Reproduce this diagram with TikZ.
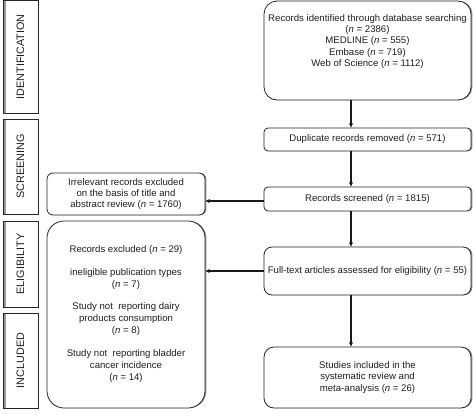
\documentclass[tikz,border=0pt]{standalone}
\usepackage{fontspec}
\setmainfont{Liberation Sans}
\usetikzlibrary{arrows.meta,shadows}
\begin{document}
\begin{tikzpicture}[x=1pt,y=-1pt,
  every node/.style={font=\fontsize{9.6}{11.3}\selectfont, text=black!88},
  flowbox/.style={draw=black!85, line width=0.8pt, fill=white, align=center, inner sep=0pt,
    drop shadow={shadow xshift=1.4pt, shadow yshift=0pt, fill=black!45, opacity=1}},
  sidebox/.style={draw=black!85, line width=0.8pt, fill=white, inner sep=0pt,
    minimum width=35pt,
    path picture={\fill[black!40] (path picture bounding box.north west) rectangle ([xshift=3pt]path picture bounding box.south west);}},
  sidelabel/.style={rotate=90, font=\fontsize{10.8}{12}\selectfont},
  arr/.style={line width=1.3pt, black!90, -{Stealth[length=4.5pt,width=4pt]}}
]
\useasboundingbox (0,0) rectangle (474,413);

% side stage boxes
\node[sidebox, minimum height=112.5pt] (id) at (20.5,56.75) {};
\node[sidelabel] (idl) at (id.center) {IDENTIFICATION};
\node[sidebox, minimum height=95pt] (scr) at (20.5,166.5) {};
\node[sidelabel] (scrl) at (scr.center) {SCREENING};
\node[sidebox, minimum height=86pt] (eli) at (20.5,264) {};
\node[sidelabel] (elil) at (eli.center) {ELIGIBILITY};
\node[sidebox, minimum height=95pt] (inc) at (20.5,360.5) {};
\node[sidelabel] (incl) at (inc.center) {INCLUDED};

% main flow
\node[flowbox, rounded corners=13pt, minimum width=207pt, minimum height=99pt] (rec) at (367.5,50.5)
  {Records identified through database searching\\(\textit{n} = 2386)\\MEDLINE (\textit{n} = 555)\\Embase (\textit{n} = 719)\\Web of Science (\textit{n} = 1112)\\[9pt]};
\node[flowbox, rounded corners=4pt, minimum width=207pt, minimum height=23pt] (dup) at (367.5,139.5)
  {Duplicate records removed (\textit{n} = 571)};
\node[flowbox, rounded corners=4pt, minimum width=207pt, minimum height=24pt] (scrd) at (367.5,199)
  {Records screened (\textit{n} = 1815)};
\node[flowbox, rounded corners=8pt, minimum width=207pt, minimum height=48pt] (full) at (367.5,271)
  {Full-text articles assessed for eligibility (\textit{n} = 55)};
\node[flowbox, rounded corners=10pt, minimum width=207pt, minimum height=61pt] (stud) at (367.5,377.5)
  {Studies included in the\\systematic review and\\meta-analysis (\textit{n} = 26)};

% exclusions
\node[flowbox, rounded corners=6pt, minimum width=158pt, minimum height=42pt] (irr) at (126,194)
  {Irrelevant records excluded\\on the basis of title and\\abstract review (\textit{n} = 1760)};
\node[flowbox, rounded corners=17pt, minimum width=158pt, minimum height=187pt,
  font=\fontsize{9.6}{12}\selectfont] (exc) at (126,314.5)
  {Records excluded (\textit{n} = 29)\\[11pt]
   ineligible publication types\\(\textit{n} = 7)\\[10pt]
   Study not\ \ reporting dairy\\products consumption\\(\textit{n} = 8)\\[11pt]
   Study not\ \ reporting bladder\\cancer incidence\\(\textit{n} = 14)};

% connectors
\coordinate (ax) at (351,0);
\coordinate (sw) at ([yshift=-2pt]scrd.west);
\draw[arr] (rec.south -| ax) -- (dup.north -| ax);
\draw[arr] (dup.south -| ax) -- (scrd.north -| ax);
\draw[arr] (scrd.south -| ax) -- (full.north -| ax);
\draw[arr] (full.south -| ax) -- (stud.north -| ax);
\draw[arr] (sw) -- (irr.east |- sw);
\draw[arr] (full.west) -- (exc.east |- full.west);
\end{tikzpicture}
\end{document}
